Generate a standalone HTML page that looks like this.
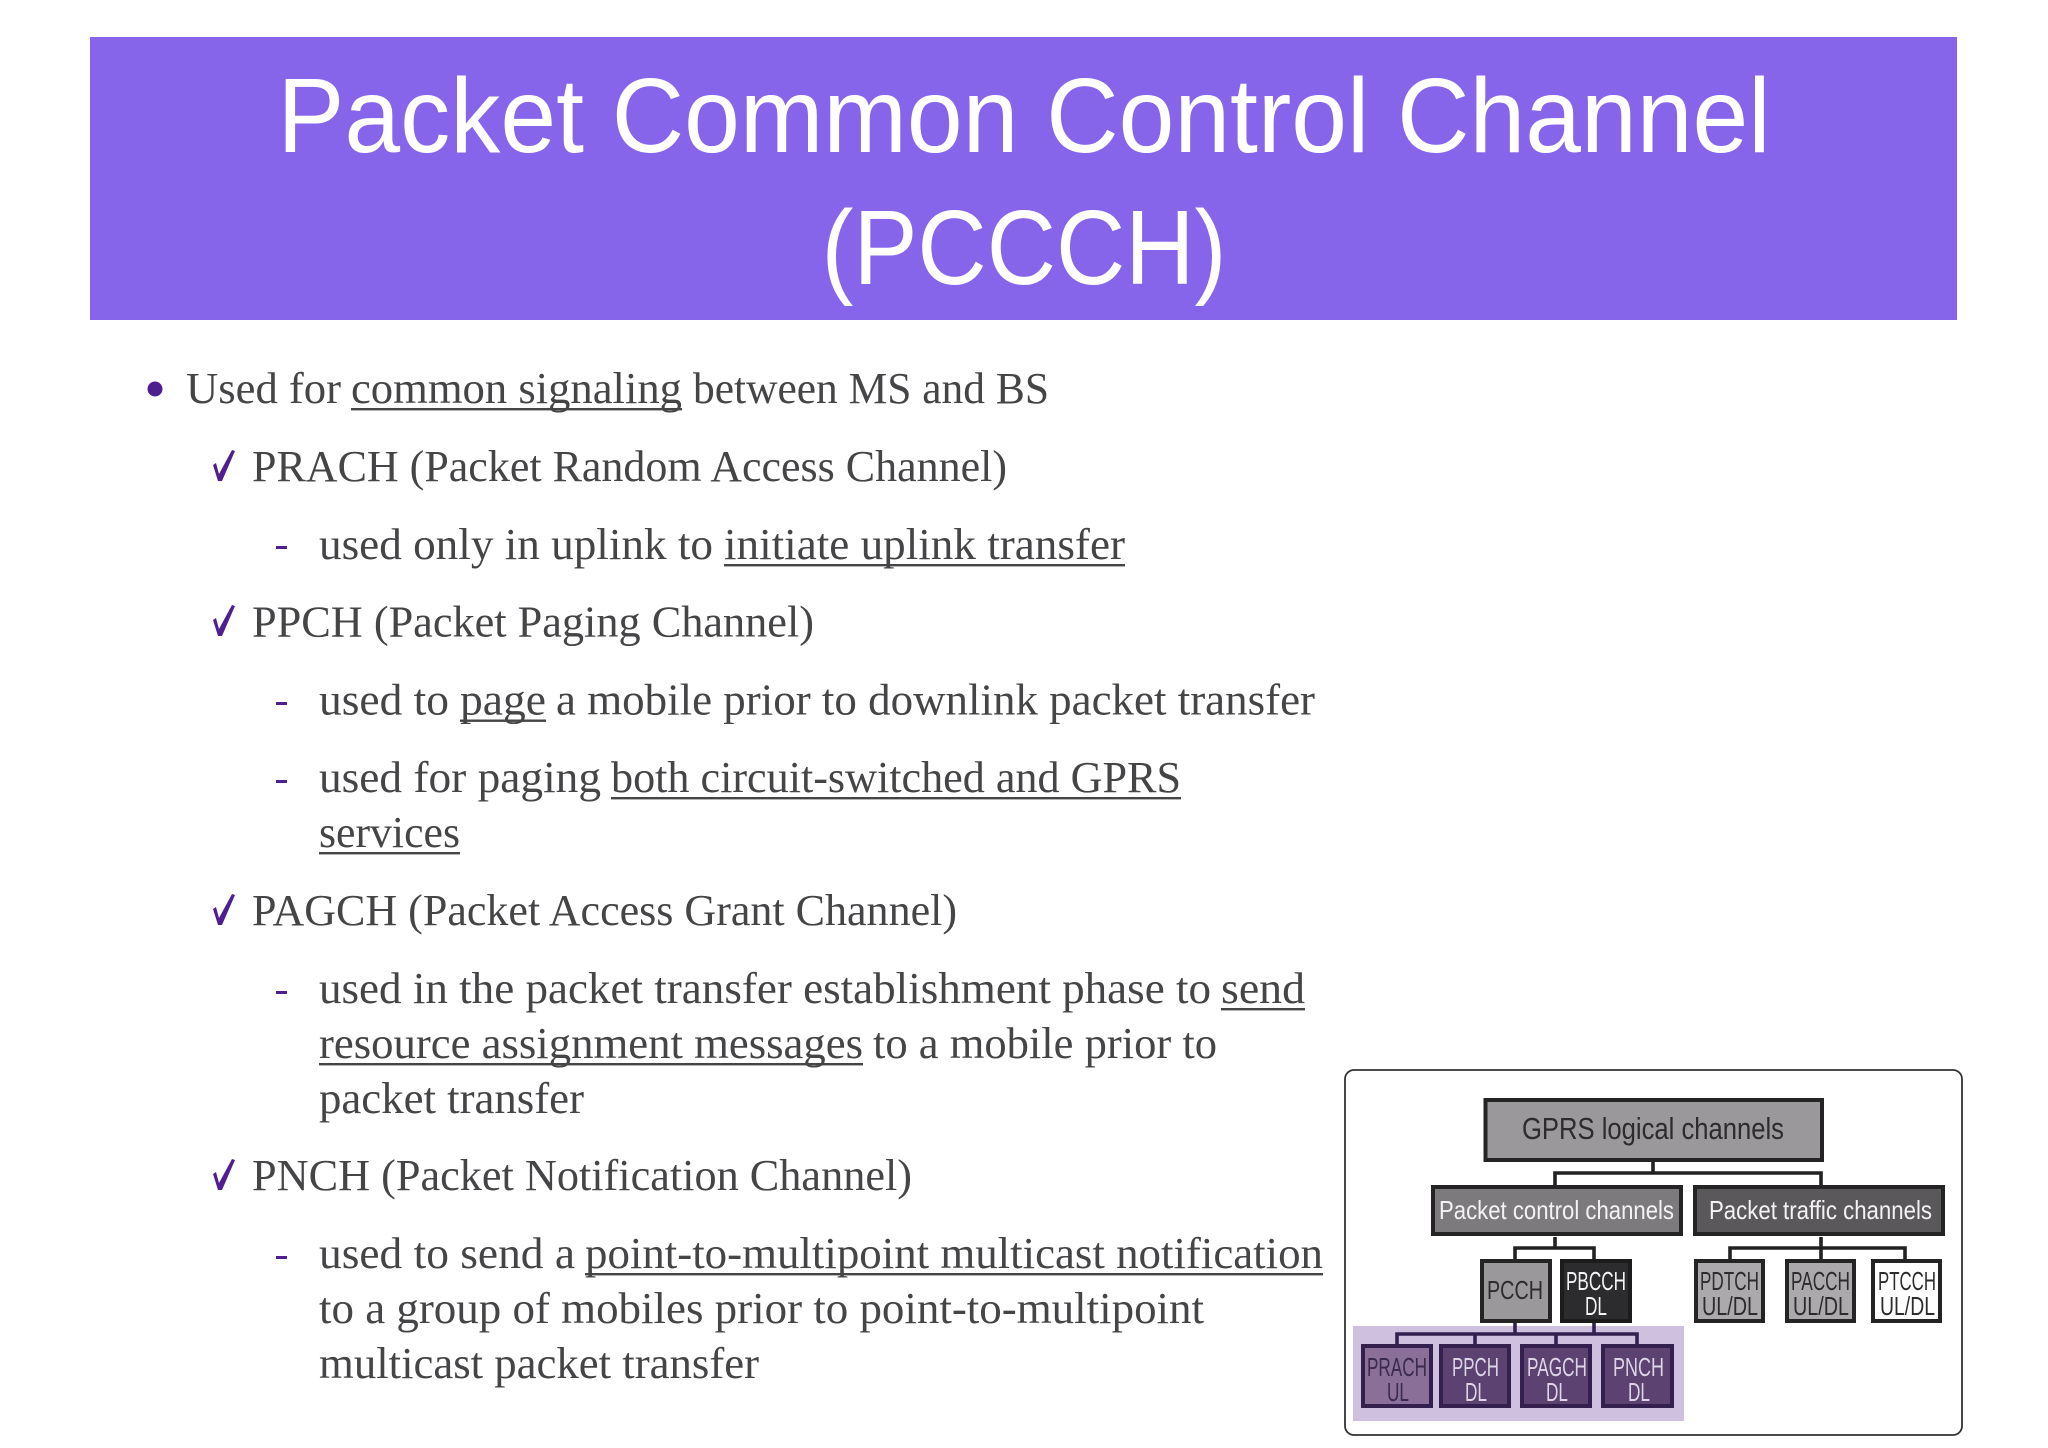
<!DOCTYPE html>
<html><head><meta charset="utf-8"><style>
html,body{margin:0;padding:0;background:#fff}
svg{display:block}
.t{font-family:"Liberation Sans",sans-serif;fill:#fff;font-size:106px}
.b{font-family:"Liberation Serif",serif;fill:#454547;font-size:44px}
.d{font-family:"Liberation Sans",sans-serif}
</style></head><body>
<svg width="2048" height="1448" viewBox="0 0 2048 1448" xmlns="http://www.w3.org/2000/svg">
<rect width="2048" height="1448" fill="#fff"/>
<rect x="90" y="37" width="1867" height="283" fill="#8665EA"/>
<text class="t" x="277.5" y="152" textLength="1493" lengthAdjust="spacingAndGlyphs">Packet Common Control Channel</text>
<text class="t" x="821.5" y="284" textLength="405" lengthAdjust="spacingAndGlyphs">(PCCCH)</text>

<circle cx="155" cy="389" r="7.5" fill="#4F1F90"/>
<g fill="#4F1F90" transform="translate(-1,0)">
<polygon points="214,465 217,463 220,474 233,450 236,451 223,481 219,481"/>
<polygon transform="translate(0,155)" points="214,465 217,463 220,474 233,450 236,451 223,481 219,481"/>
<polygon transform="translate(0,444)" points="214,465 217,463 220,474 233,450 236,451 223,481 219,481"/>
<polygon transform="translate(0,709)" points="214,465 217,463 220,474 233,450 236,451 223,481 219,481"/>
<rect x="277" y="546" width="11" height="3"/>
<rect x="277" y="702" width="11" height="3"/>
<rect x="277" y="780" width="11" height="3"/>
<rect x="277" y="991" width="11" height="3"/>
<rect x="277" y="1256" width="11" height="3"/>
</g>

<g transform="translate(-1,2)">
<text class="b" x="187" y="401" textLength="155" lengthAdjust="spacingAndGlyphs">Used for</text>
<text class="b" x="352" y="401" textLength="331" lengthAdjust="spacingAndGlyphs">common signaling</text>
<text class="b" x="694" y="401" textLength="356" lengthAdjust="spacingAndGlyphs">between MS and BS</text>

<text class="b" x="253" y="479" textLength="755" lengthAdjust="spacingAndGlyphs">PRACH (Packet Random Access Channel)</text>

<text class="b" x="320" y="557" textLength="394" lengthAdjust="spacingAndGlyphs">used only in uplink to</text>
<text class="b" x="725" y="557" textLength="401" lengthAdjust="spacingAndGlyphs">initiate uplink transfer</text>

<text class="b" x="253" y="634.5" textLength="562" lengthAdjust="spacingAndGlyphs">PPCH (Packet Paging Channel)</text>

<text class="b" x="320" y="712.5" textLength="130" lengthAdjust="spacingAndGlyphs">used to</text>
<text class="b" x="461" y="712.5" textLength="86" lengthAdjust="spacingAndGlyphs">page</text>
<text class="b" x="557" y="712.5" textLength="759" lengthAdjust="spacingAndGlyphs">a mobile prior to downlink packet transfer</text>

<text class="b" x="320" y="790" textLength="282" lengthAdjust="spacingAndGlyphs">used for paging</text>
<text class="b" x="612" y="790" textLength="570" lengthAdjust="spacingAndGlyphs">both circuit-switched and GPRS</text>
<text class="b" x="320" y="845" textLength="141" lengthAdjust="spacingAndGlyphs">services</text>

<text class="b" x="253" y="923" textLength="705" lengthAdjust="spacingAndGlyphs">PAGCH (Packet Access Grant Channel)</text>

<text class="b" x="320" y="1001" textLength="892" lengthAdjust="spacingAndGlyphs">used in the packet transfer establishment phase to</text>
<text class="b" x="1222" y="1001" textLength="84" lengthAdjust="spacingAndGlyphs">send</text>
<text class="b" x="320" y="1056" textLength="544" lengthAdjust="spacingAndGlyphs">resource assignment messages</text>
<text class="b" x="874" y="1056" textLength="344" lengthAdjust="spacingAndGlyphs">to a mobile prior to</text>
<text class="b" x="320" y="1111" textLength="265" lengthAdjust="spacingAndGlyphs">packet transfer</text>

<text class="b" x="253" y="1188" textLength="660" lengthAdjust="spacingAndGlyphs">PNCH (Packet Notification Channel)</text>

<text class="b" x="320" y="1266" textLength="256" lengthAdjust="spacingAndGlyphs">used to send a</text>
<text class="b" x="586" y="1266" textLength="738" lengthAdjust="spacingAndGlyphs">point-to-multipoint multicast notification</text>
<text class="b" x="320" y="1321" textLength="885" lengthAdjust="spacingAndGlyphs">to a group of mobiles prior to point-to-multipoint</text>
<text class="b" x="320" y="1376" textLength="440" lengthAdjust="spacingAndGlyphs">multicast packet transfer</text>

<g fill="#454547">
<rect x="352" y="406" width="331" height="2.4"/>
<rect x="725" y="562" width="401" height="2.4"/>
<rect x="461" y="717.5" width="86" height="2.4"/>
<rect x="612" y="795" width="570" height="2.4"/>
<rect x="320" y="850" width="141" height="2.4"/>
<rect x="1222" y="1006" width="84" height="2.4"/>
<rect x="320" y="1061" width="544" height="2.4"/>
<rect x="586" y="1271" width="738" height="2.4"/>
</g>
</g>

<g transform="translate(-3,-3)">
<rect x="1348" y="1073" width="617" height="365" rx="9" ry="9" fill="#fff" stroke="#333" stroke-width="1.8"/>
<rect x="1356" y="1329" width="331" height="95" fill="#CFC0E0"/>

<g fill="none" stroke="#222" stroke-width="3.6">
<path d="M1656 1165V1176M1558 1190V1176H1824V1190"/>
<path d="M1558 1240V1251M1518 1264V1251H1597V1264"/>
<path d="M1824 1240V1251M1733 1264V1251H1908V1264M1824 1251V1264"/>
</g>
<g fill="none" stroke="#33204F" stroke-width="3.6">
<path d="M1518 1325V1337M1597 1325V1337M1400 1349V1337H1640V1349M1478 1337V1349M1559 1337V1349"/>
</g>

<g stroke-width="4">
<rect x="1488.5" y="1103" width="336.5" height="60" fill="#9A989B" stroke="#242424"/>
<rect x="1436" y="1190" width="248" height="47" fill="#7C7A7D" stroke="#242424"/>
<rect x="1698" y="1190" width="248" height="47" fill="#5A585B" stroke="#242424"/>
<rect x="1485" y="1264" width="68" height="60" fill="#9A989B" stroke="#242424"/>
<rect x="1565" y="1264" width="68" height="60" fill="#2C2B2D" stroke="#1c1c1c"/>
<rect x="1699" y="1264" width="67" height="60" fill="#ABA9AC" stroke="#242424"/>
<rect x="1790" y="1264" width="67" height="60" fill="#ABA9AC" stroke="#242424"/>
<rect x="1876" y="1264" width="67" height="60" fill="#fff" stroke="#242424"/>
<rect x="1366" y="1349" width="68" height="60" fill="#8A6F98" stroke="#33204F"/>
<rect x="1444" y="1349" width="68" height="60" fill="#5B4271" stroke="#33204F"/>
<rect x="1525" y="1349" width="68" height="60" fill="#5B4271" stroke="#33204F"/>
<rect x="1606" y="1349" width="69" height="60" fill="#5B4271" stroke="#33204F"/>
</g>

<g class="d" font-size="31" fill="#2c2c2c">
<text x="1525" y="1142" textLength="262" lengthAdjust="spacingAndGlyphs">GPRS logical channels</text>
</g>
<g class="d" font-size="26" fill="#f3f3f3">
<text x="1442" y="1222" textLength="235" lengthAdjust="spacingAndGlyphs">Packet control channels</text>
<text x="1712" y="1222" textLength="223" lengthAdjust="spacingAndGlyphs">Packet traffic channels</text>
<text x="1569" y="1293" textLength="60" lengthAdjust="spacingAndGlyphs">PBCCH</text>
<text x="1588" y="1318" textLength="22" lengthAdjust="spacingAndGlyphs">DL</text>
</g>
<g class="d" font-size="26" fill="#2c2c2c">
<text x="1490" y="1302" textLength="56" lengthAdjust="spacingAndGlyphs">PCCH</text>
<text x="1703" y="1293" textLength="59" lengthAdjust="spacingAndGlyphs">PDTCH</text>
<text x="1705" y="1318" textLength="56" lengthAdjust="spacingAndGlyphs">UL/DL</text>
<text x="1794" y="1293" textLength="59" lengthAdjust="spacingAndGlyphs">PACCH</text>
<text x="1796" y="1318" textLength="56" lengthAdjust="spacingAndGlyphs">UL/DL</text>
<text x="1881" y="1293" textLength="58" lengthAdjust="spacingAndGlyphs">PTCCH</text>
<text x="1883" y="1318" textLength="55" lengthAdjust="spacingAndGlyphs">UL/DL</text>
</g>
<g class="d" font-size="26" fill="#3A2A4E">
<text x="1370" y="1379" textLength="60" lengthAdjust="spacingAndGlyphs">PRACH</text>
<text x="1390" y="1404" textLength="22" lengthAdjust="spacingAndGlyphs">UL</text>
</g>
<g class="d" font-size="26" fill="#DDD5E6">
<text x="1455" y="1379" textLength="47" lengthAdjust="spacingAndGlyphs">PPCH</text>
<text x="1468" y="1404" textLength="22" lengthAdjust="spacingAndGlyphs">DL</text>
<text x="1530" y="1379" textLength="60" lengthAdjust="spacingAndGlyphs">PAGCH</text>
<text x="1549" y="1404" textLength="22" lengthAdjust="spacingAndGlyphs">DL</text>
<text x="1616" y="1379" textLength="51" lengthAdjust="spacingAndGlyphs">PNCH</text>
<text x="1631" y="1404" textLength="22" lengthAdjust="spacingAndGlyphs">DL</text>
</g>
</g>
</svg>
</body></html>
